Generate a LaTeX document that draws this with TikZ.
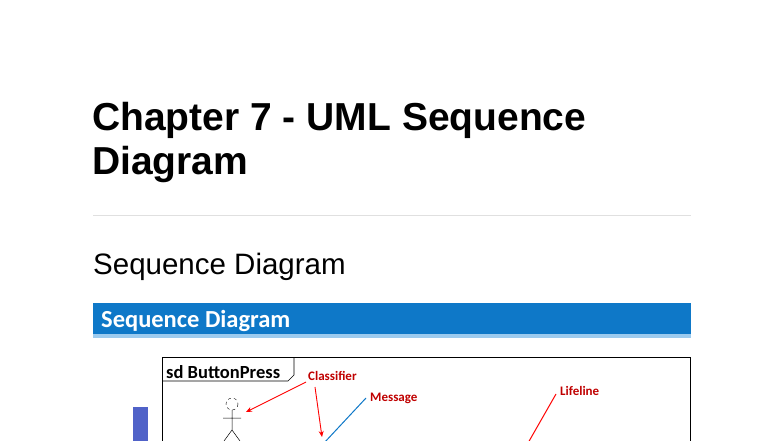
\documentclass[tikz,border=0pt]{standalone}
\usepackage{fontspec}
\setmainfont{Liberation Sans}
\newfontfamily\carl{Carlito}
\usetikzlibrary{arrows.meta}
\definecolor{barblue}{HTML}{0E78C8}
\definecolor{lightblue}{HTML}{9CCBEF}
\definecolor{side}{HTML}{5062C8}
\definecolor{lab}{HTML}{C00000}
\tikzset{lbl/.style={text=lab,font=\carl\bfseries\fontsize{13}{14}\selectfont,anchor=west,inner sep=0},
 rarr/.style={red,line width=0.9pt,-{Stealth[length=6pt,width=5pt]}}}
\begin{document}
\begin{tikzpicture}[x=1pt,y=-1pt]
\useasboundingbox (0,0) rectangle (784,441);
\fill[white] (0,0) rectangle (784,441);
\node[anchor=base west,inner sep=0,font=\bfseries\fontsize{39}{44}\selectfont] (t1) at (92,131) {Chapter 7 - UML Sequence};
\node[anchor=base west,inner sep=0,font=\bfseries\fontsize{39}{44}\selectfont] (t2) at (92,174) {Diagram};
\draw[black!12,line width=1pt] (93,215) -- (691,215);
\node[anchor=base west,inner sep=0,font=\fontsize{29.5}{32}\selectfont] (h) at (93,274) {Sequence Diagram};
\fill[lightblue] (93,333) rectangle (691,338);
\fill[barblue] (93,303) rectangle (691,334);
\node[anchor=base west,inner sep=0,text=white,font=\carl\bfseries\fontsize{24.5}{28}\selectfont] (bt) at (101,327) {Sequence Diagram};
\fill[side] (133,407) rectangle (148,441);
\draw[line width=0.8pt] (162,445) -- (162,357) -- (690,357) -- (690,445);
\draw[line width=0.6pt] (162,381) -- (288,381) -- (294,375) -- (294,357);
\node[anchor=base west,inner sep=0,font=\carl\bfseries\fontsize{18.5}{20}\selectfont] (sd) at (166,378) {sd ButtonPress};
\draw[dashed,line width=0.4pt] (232,404) circle (6);
\draw[line width=0.5pt] (232,410) -- (232,430) (223,418) -- (241,418) (232,430) -- (224,441) (232,430) -- (240,441);
\node[lbl] (cl) at (308,376) {Classifier};
\node[lbl] (ms) at (370,398) {Message};
\node[lbl] (lf) at (560,391) {Lifeline};
\coordinate (a1) at (306,382);
\coordinate (a2) at (246,412);
\draw[rarr] (a1) -- (a2);
\coordinate (b1) at (315,387);
\coordinate (b2) at (322,437);
\draw[rarr] (b1) -- (b2);
\coordinate (c1) at (366,398);
\coordinate (c2) at (324,443);
\draw[barblue,line width=1pt] (c1) -- (c2);
\coordinate (d1) at (556,394);
\coordinate (d2) at (528,443);
\draw[red,line width=1pt] (d1) -- (d2);
\end{tikzpicture}
\end{document}
